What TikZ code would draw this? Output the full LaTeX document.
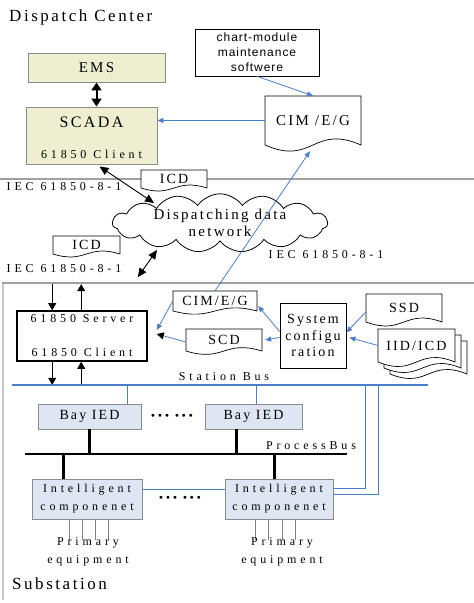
\documentclass[tikz,border=0pt]{standalone}
\usepackage{fontspec}
\setmainfont{Liberation Serif}
\newfontfamily\wfont[LetterSpace=15]{Liberation Serif}
\newfontfamily\tfont[LetterSpace=32]{Liberation Serif}
\newfontfamily\dfont[LetterSpace=10]{DejaVu Sans}
\newfontfamily\sfont[LetterSpace=8]{Liberation Sans}
\usetikzlibrary{arrows.meta,shapes.symbols,calc}
\definecolor{lblue}{RGB}{74,126,200}
\definecolor{yfill}{RGB}{238,238,208}
\definecolor{bfill}{RGB}{221,230,242}
\definecolor{bgray}{RGB}{140,140,140}
\definecolor{fgray}{RGB}{160,160,160}
\tikzset{
 ybox/.style={draw=bgray, fill=yfill, line width=0.9pt, inner sep=0},
 bbox/.style={draw=bgray, fill=bfill, line width=0.9pt, inner sep=0},
 plain/.style={draw, line width=0.7pt, inner sep=0},
 txt/.style={inner sep=0, font=\wfont\fontsize{14}{17}\selectfont, align=center},
 ttxt/.style={inner sep=0, font=\tfont\fontsize{12}{18}\selectfont, align=center},
 bl/.style={draw=lblue, line width=0.8pt},
 barrow/.style={bl, -{Triangle[length=6pt,width=5pt]}},
 dbl/.style={line width=0.9pt, {Triangle[length=9pt,width=8pt]}-{Triangle[length=9pt,width=8pt]}},
 sarr/.style={line width=0.7pt, -{Triangle[length=7pt,width=8pt]}},
 docline/.style={draw=black, fill=white, line width=0.7pt},
 frame/.style={draw=fgray, line width=1.2pt},
 dotstxt/.style={inner sep=0, font=\dfont\fontsize{10}{10}\selectfont},
}
\newcommand\docoutline[4]{%
  \pgfmathsetmacro\dxa{#1-#3/2}\pgfmathsetmacro\dxb{#1+#3/2}%
  \pgfmathsetmacro\dya{#2-#4/2}\pgfmathsetmacro\dyb{#2+#4/2}%
  \pgfmathsetmacro\dk{0.35*#4+4}%
  \path[docline] (\dxa,\dya) -- (\dxb,\dya) -- (\dxb,\dyb) .. controls (#1,\dyb-\dk) and (#1,\dyb+\dk) .. (\dxa,\dyb) -- cycle;}
\newcommand\docnode[6]{\docoutline{#2}{#3}{#4}{#5}%
  \node[txt, minimum width=#4pt, minimum height=#5pt] (#1) at (#2,#3) {#6};}
\begin{document}
\begin{tikzpicture}[x=1pt,y=-1pt]
\useasboundingbox (0,0) rectangle (474,603);
% ---------- Dispatch center ----------
\node[anchor=west, inner sep=0, font=\wfont\fontsize{17}{20}\selectfont] (disp) at (9,17) {Dispatch Center};
\node[ybox, minimum width=137pt, minimum height=29pt, font=\wfont\fontsize{15}{18}\selectfont] (ems) at (96.5,67.5) {EMS};
\node[ybox, minimum width=131pt, minimum height=57pt] (scada) at (91.5,135.5) {};
\node[txt, font=\wfont\fontsize{16}{18}\selectfont] (scadat) at (91.5,122) {SCADA};
\node[ttxt] (scadac) at (91.5,154) {61850 Client};
\draw[line width=2pt, {Triangle[length=8pt,width=10pt]}-{Triangle[length=8pt,width=10pt]}] (ems.south) -- (ems.south |- scada.north);
\node[plain, minimum width=124pt, minimum height=47pt, font=\sfont\fontsize{12}{15}\selectfont, align=center] (chart) at (257,52.5) {chart-module\\maintenance\\softwere};
\docnode{cimtop}{313}{120.5}{96}{49}{\fontsize{15}{17}\selectfont CIM /E/G}
\draw[barrow] (cimtop.west) -- (scada.east |- cimtop.west);
\draw[barrow] (chart.south) -- (cimtop.north);
% separator
\draw[frame] (0,179) -- (474,179);
\docnode{icd1}{174}{179}{66}{18}{ICD}
\node[ttxt] (iec1) at (64,187) {IEC 61850-8-1};
\node[ttxt] (iec2) at (64,269) {IEC 61850-8-1};
\node[ttxt] (iec3) at (326,255) {IEC 61850-8-1};
\node[txt, font=\wfont\fontsize{15}{17}\selectfont, cloud, draw, line width=0.8pt, fill=white, cloud puffs=15, cloud puff arc=110, cloud ignores aspect, minimum width=215pt, minimum height=50pt] (cloud) at (220,223) {Dispatching data\\network};
\docnode{icd2}{86.5}{245}{67}{18}{ICD}
\draw[dbl] ($(scada.south)+(8,2)$) -- ($(cloud.center)+(-66,-20)$);
% ---------- Substation ----------
\draw[draw=fgray!60, line width=2.5pt] (3,600) -- (3,283);
\draw[frame] (2,283) -- (474,283);
\node[draw, line width=1.6pt, minimum width=130pt, minimum height=50pt, inner sep=0] (server) at (82,336) {};
\node[ttxt] (servt) at (82,319) {61850 Server};
\node[ttxt] (servc) at (82,352) {61850 Client};
\draw[dbl] ($(cloud.center)+(-63,27)$) -- ($(server.north east)+(-10,-33)$);
\draw[sarr] ($(server.north west)+(36,-26)$) -- ($(server.north west)+(36,0)$);
\draw[sarr] ($(server.north west)+(65,0)$) -- ($(server.north west)+(65,-26)$);
\draw[sarr] ($(server.south west)+(36,0)$) -- ($(server.south west)+(36,23)$);
\draw[sarr] ($(server.south west)+(65,24)$) -- ($(server.south west)+(65,0)$);
\coordinate (sb1) at (12,385);
\coordinate (sb2) at (428,385);
\draw[bl, line width=1.3pt] (sb1) -- (sb2);
\node[ttxt] (sblab) at (224,377) {Station Bus};
\docnode{cimsub}{215}{301}{84}{20}{CIM/E/G}
\docnode{scd}{224}{340}{76}{22}{SCD}
\node[plain, txt, minimum width=66pt, minimum height=65pt, font=\wfont\fontsize{14}{16.5}\selectfont] (sys) at (313,335.5) {System\\configu\\ration};
\docnode{ssd}{404}{308}{76}{28}{SSD}
\docoutline{428.5}{357.5}{77}{33}
\docoutline{422.5}{351.5}{77}{33}
\docnode{iid}{416.5}{345.5}{77}{33}{IID/ICD}
\draw[barrow] ($(ssd.west)+(0,4)$) -- ($(sys.east)+(0,-3)$);
\draw[barrow] (iid.west) -- ($(sys.east)+(3,2)$);
\draw[barrow] ($(sys.west)+(0,-4)$) -- ($(cimsub.east)+(1,5)$);
\draw[barrow] ($(sys.west)+(0,2)$) -- ($(scd.east)+(3,0)$);
\draw[barrow] (cimsub.west) -- ($(server.east)+(9,-6)$);
\draw[bl, -{Triangle[length=7pt,width=7pt,color=black]}] ($(scd.west)+(0,2)$) -- ($(server.east)+(9,-2)$);
\draw[barrow] (cimsub.north) -- ($(cimtop.south)+(-3,6)$);
% bay level
\node[bbox, txt, minimum width=103pt, minimum height=25pt] (bay1) at (89.5,416.5) {Bay IED};
\node[bbox, txt, minimum width=97pt, minimum height=25pt] (bay2) at (253.5,416.5) {Bay IED};
\draw[bl] ($(bay1.north west)+(90,0)$) -- ($(bay1.north west)+(90,-19)$);
\draw[bl] ($(bay2.north west)+(52,0)$) -- ($(bay2.north west)+(52,-19)$);
\node[dotstxt] (dots1) at (172,417) {••• •••};
% process bus
\coordinate (pb1) at (25,454);
\coordinate (pb2) at (347,454);
\draw[line width=2.5pt] (pb1) -- (pb2);
\node[ttxt] (pblab) at (311,446) {ProcessBus};
\draw[line width=2.5pt] (bay1.south) -- (bay1.south |- pb1);
\draw[line width=2.5pt] ($(bay2.south west)+(32,0)$) -- ($(bay2.south west)+(32,25)$);
\node[bbox, ttxt, minimum width=110pt, minimum height=40pt] (ic1) at (87,499) {Intelligent\\componenet};
\node[bbox, ttxt, minimum width=108pt, minimum height=40pt] (ic2) at (279,499) {Intelligent\\componenet};
\draw[line width=2.5pt] ($(ic1.north west)+(32,0)$) -- ($(ic1.north west)+(32,-25)$);
\draw[line width=2.5pt] ($(ic2.north west)+(50,0)$) -- ($(ic2.north west)+(50,-25)$);
\draw[bl] ($(ic1.east)+(0,-10)$) -- ($(ic2.west)+(0,-10)$);
\node[dotstxt] (dots2) at (180,499) {••• •••};
\coordinate (sbA) at (365,385);
\coordinate (sbB) at (378,385);
\draw[bl, line width=1pt] ($(ic2.east)+(0,-11)$) -| (sbA);
\draw[bl, line width=1pt] ($(ic2.east)+(0,-5)$) -| (sbB);
\foreach \o in {38,51,64,77} \draw[gray, line width=0.6pt] ($(ic1.south west)+(\o,0)$) -- ++(0,21);
\foreach \o in {31,44,58,71} \draw[gray, line width=0.6pt] ($(ic2.south west)+(\o,0)$) -- ++(0,21);
\node[ttxt] (prim1) at (88,552) {Primary\\equipment};
\node[ttxt] (prim2) at (282,552) {Primary\\equipment};
\node[anchor=west, inner sep=0, font=\wfont\fontsize{17}{20}\selectfont] (subst) at (12,584) {Substation};
\end{tikzpicture}
\end{document}
